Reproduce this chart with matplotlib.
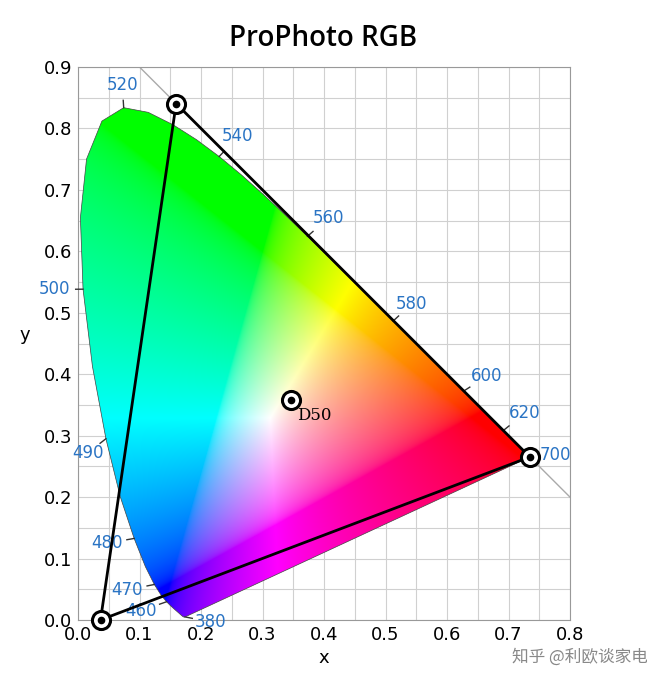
import numpy as np
import matplotlib
matplotlib.use("Agg")
import matplotlib.pyplot as plt
from matplotlib.path import Path
from matplotlib.patches import PathPatch

wl = [380,385,390,395,400,405,410,415,420,425,430,435,440,445,450,455,460,465,470,475,480,485,490,495,500,505,510,515,520,525,530,535,540,545,550,555,560,565,570,575,580,585,590,595,600,605,610,615,620,625,630,635,640,645,650,655,660,665,670,680,690,700]
lx = [0.1741,0.1740,0.1738,0.1736,0.1733,0.1730,0.1726,0.1721,0.1714,0.1703,0.1689,0.1669,0.1644,0.1611,0.1566,0.1510,0.1440,0.1355,0.1241,0.1096,0.0913,0.0687,0.0454,0.0235,0.0082,0.0039,0.0139,0.0389,0.0743,0.1142,0.1547,0.1929,0.2296,0.2658,0.3016,0.3373,0.3731,0.4087,0.4441,0.4788,0.5125,0.5448,0.5752,0.6029,0.6270,0.6482,0.6658,0.6801,0.6915,0.7006,0.7079,0.7140,0.7190,0.7230,0.7260,0.7283,0.7300,0.7311,0.7320,0.7334,0.7344,0.7347]
ly = [0.0050,0.0050,0.0049,0.0049,0.0048,0.0048,0.0048,0.0048,0.0051,0.0058,0.0069,0.0086,0.0109,0.0138,0.0177,0.0227,0.0297,0.0399,0.0578,0.0868,0.1327,0.2007,0.2950,0.4127,0.5384,0.6548,0.7502,0.8120,0.8338,0.8262,0.8059,0.7816,0.7543,0.7243,0.6923,0.6589,0.6245,0.5896,0.5547,0.5202,0.4866,0.4544,0.4242,0.3965,0.3725,0.3514,0.3340,0.3197,0.3083,0.2993,0.2920,0.2859,0.2809,0.2770,0.2740,0.2717,0.2700,0.2689,0.2680,0.2666,0.2656,0.2653]
label_wl = [380,460,470,480,490,500,520,540,560,580,600,620,700]
# label positions (style): where each wavelength text sits
label_pos = [(0.215,-0.003),(0.102,0.015),(0.08,0.049),(0.047,0.125),(0.016,0.272),(-0.039,0.538),
             (0.072,0.87),(0.26,0.787),(0.407,0.654),(0.543,0.515),(0.665,0.397),(0.727,0.337),(0.776,0.268)]
prim_x = [0.7347, 0.1596, 0.0366]
prim_y = [0.2653, 0.8404, 0.0001]
wp_x, wp_y = 0.3457, 0.3585

fig = plt.figure(figsize=(6.47, 6.84), dpi=100)
ax = fig.add_axes([78/647, 1-620/684, 492/647, 553/684])
ax.set_xlim(0, 0.8); ax.set_ylim(0, 0.9)

N = 500
gx, gy = np.meshgrid(np.linspace(0, 0.8, N), np.linspace(0, 0.9, N))
gys = np.maximum(gy, 1e-4)
X = gx / gys; Y = np.ones_like(gx); Z = (1 - gx - gy) / gys
M = np.array([[3.2406,-1.5372,-0.4986],[-0.9689,1.8758,0.0415],[0.0557,-0.2040,1.0570]])
rgb = np.einsum('ij,jkl->kli', M, np.stack([X, Y, Z]))
rgb = np.clip(rgb, 0, None)
rgb = rgb / np.maximum(rgb.max(axis=2, keepdims=True), 1e-9)
rgb = np.where(rgb <= 0.0031308, 12.92*rgb, 1.055*rgb**(1/2.4) - 0.055)
rgb = np.clip(rgb, 0, 1)
im = ax.imshow(rgb, origin='lower', extent=[0, 0.8, 0, 0.9], aspect='auto', zorder=1, interpolation='bilinear')
verts = list(zip(lx, ly)) + [(lx[0], ly[0])]
patch = PathPatch(Path(verts), facecolor='none', edgecolor='#444444', lw=0.5, zorder=2)
ax.add_patch(patch)
im.set_clip_path(patch)

ax.set_xticks(np.arange(0, 0.81, 0.1)); ax.set_yticks(np.arange(0, 0.91, 0.1))
ax.set_xticks(np.arange(0, 0.81, 0.05), minor=True); ax.set_yticks(np.arange(0, 0.91, 0.05), minor=True)
ax.grid(True, which='both', color='#d0d0d0', lw=0.8, zorder=0)
ax.set_axisbelow(True)
ax.tick_params(which='minor', length=0)
ax.tick_params(which='major', length=0, labelsize=13, pad=4)
ax.set_xticklabels([f"{v:.1f}" for v in np.arange(0, 0.81, 0.1)])
ax.set_yticklabels([f"{v:.1f}" for v in np.arange(0, 0.91, 0.1)])
for s in ax.spines.values():
    s.set_color('#999999')
ax.set_xlabel('x', fontsize=13, labelpad=4)
ax.set_ylabel('y', fontsize=13, rotation=0, labelpad=14)

ax.plot([0.1, 0.8], [0.9, 0.2], color='#aaaaaa', lw=1, zorder=1.5)

for w, (tx_, ty_) in zip(label_wl, label_pos):
    i = wl.index(w)
    px, py = lx[i], ly[i]
    d = np.array([tx_ - px, ty_ - py]); d /= np.hypot(*d)
    ax.plot([px, px + 0.012*d[0]], [py, py + 0.012*d[1]], color='#333333', lw=1, zorder=3, clip_on=False)
    ax.text(tx_, ty_, str(w), color='#2a74c4', fontsize=12, ha='center', va='center', zorder=4, clip_on=False)

tx = prim_x + [prim_x[0]]; ty = prim_y + [prim_y[0]]
ax.plot(tx, ty, color='black', lw=2, zorder=5)
for px, py in list(zip(prim_x, prim_y)) + [(wp_x, wp_y)]:
    ax.plot(px, py, 'o', ms=13, mfc='white', mec='black', mew=2.2, zorder=6, clip_on=False)
    ax.plot(px, py, 'o', ms=4.5, color='black', zorder=7, clip_on=False)
ax.text(wp_x + 0.01, wp_y - 0.012, 'D50', fontsize=12, family='DejaVu Serif', va='top', ha='left', zorder=7)

fig.text(0.5, 1-38/684, 'ProPhoto RGB', fontsize=20, ha='center', va='center', family='Open Sans', weight='semibold')
fig.text(580/647, 1-657/684, '知乎 @利欧谈家电', fontsize=12, color='#888888', ha='center', va='center',
         family=['Noto Sans CJK SC', 'DejaVu Sans'])
fig.savefig('out.png', dpi=100)
